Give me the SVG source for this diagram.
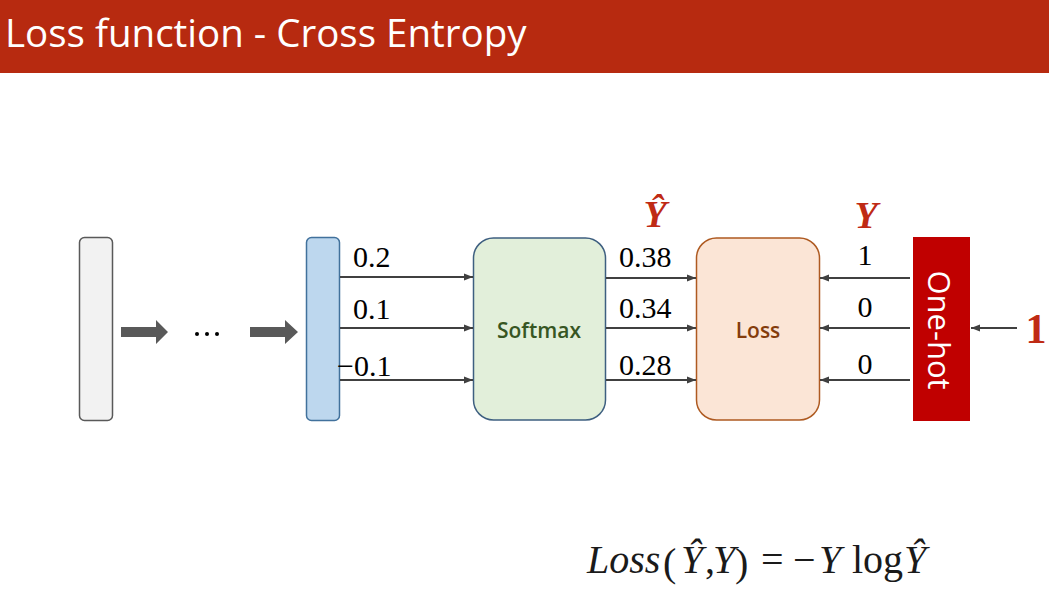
<svg xmlns="http://www.w3.org/2000/svg" width="1049" height="609" viewBox="0 0 1049 609">
<defs>
<style>
.lbl{font-family:"Liberation Serif",serif;font-size:30px;fill:#000}
.box{font-family:"Open Sans","Liberation Sans",sans-serif;font-size:21px;font-weight:600;text-anchor:middle;dominant-baseline:central}
.conn{stroke:#404040;stroke-width:2;fill:none;marker-end:url(#ah)}
.math{font-family:"Liberation Serif",serif;font-size:40px;fill:#1a1a1a}
.it{font-style:italic}
.red{font-family:"Liberation Serif",serif;font-weight:bold;fill:#BF2A14}
</style>
<marker id="ah" markerUnits="userSpaceOnUse" markerWidth="10" markerHeight="8" refX="9" refY="4" orient="auto">
<path d="M0,0.5 L9,4 L0,7.5 z" fill="#404040"/>
</marker>
</defs>
<rect width="1049" height="609" fill="#fff"/>
<g id="title">
<rect x="0" y="0" width="1049" height="73" fill="#B72A10"/>
<text x="5" y="47" font-family="Open Sans, Liberation Sans, sans-serif" font-size="38.5" fill="#fff">Loss function - Cross Entropy</text>
</g>
<g id="input-layer"><rect x="79.5" y="237.5" width="33" height="183" rx="5" fill="#F2F2F2" stroke="#595959" stroke-width="1.5"/></g>
<g id="big-arrows" fill="#595959">
<path d="M121,327 H156 V320 L168,332 L156,344 V337 H121 Z"/>
<path d="M250,327 H285 V320 L298,332 L285,344 V337 H250 Z"/>
</g>
<g id="dots" fill="#000"><circle cx="197" cy="334" r="2"/><circle cx="207" cy="334" r="2"/><circle cx="217" cy="334" r="2"/></g>
<g id="logits-layer"><rect x="306.5" y="237.5" width="33" height="183" rx="5" fill="#BDD7EE" stroke="#41719C" stroke-width="1.5"/></g>
<g id="softmax"><rect x="473.5" y="238" width="132" height="182" rx="20" fill="#E2EFDA" stroke="#3E5F80" stroke-width="1.5"/><text class="box" x="539" y="330" fill="#375623">Softmax</text></g>
<g id="loss"><rect x="696.5" y="238" width="123" height="182" rx="20" fill="#FBE5D6" stroke="#AE5A21" stroke-width="1.5"/><text class="box" x="758" y="330" fill="#843C0C">Loss</text></g>
<g id="onehot"><rect x="913" y="237" width="57" height="184" fill="#C00000"/><text transform="translate(928,330) rotate(90)" x="0" y="0" text-anchor="middle" font-family="Open Sans, Liberation Sans, sans-serif" font-size="31" fill="#fff">One-hot</text></g>
<g id="connectors">
<line class="conn" x1="340" y1="277" x2="473" y2="277"/>
<line class="conn" x1="340" y1="328" x2="473" y2="328"/>
<line class="conn" x1="340" y1="380" x2="473" y2="380"/>
<line class="conn" x1="606" y1="278" x2="696" y2="278"/>
<line class="conn" x1="606" y1="328" x2="696" y2="328"/>
<line class="conn" x1="606" y1="380" x2="696" y2="380"/>
<line class="conn" x1="910" y1="278" x2="820" y2="278"/>
<line class="conn" x1="910" y1="328" x2="820" y2="328"/>
<line class="conn" x1="910" y1="380" x2="820" y2="380"/>
<line class="conn" x1="1017" y1="328" x2="971" y2="328"/>
</g>
<g id="labels">
<text class="lbl" x="353" y="267">0.2</text>
<text class="lbl" x="353" y="319">0.1</text>
<text class="lbl" x="337" y="376">−0.1</text>
<text class="lbl" x="619" y="267">0.38</text>
<text class="lbl" x="619" y="318">0.34</text>
<text class="lbl" x="619" y="375">0.28</text>
<text class="lbl" x="865" y="265" text-anchor="middle">1</text>
<text class="lbl" x="865" y="317" text-anchor="middle">0</text>
<text class="lbl" x="865" y="374" text-anchor="middle">0</text>
<text class="red" x="655" y="227" font-size="38" font-style="italic" text-anchor="middle">Ŷ</text>
<text class="red" x="866" y="228" font-size="38" font-style="italic" text-anchor="middle">Y</text>
<text class="red" x="1036" y="343" font-size="42" text-anchor="middle">1</text>
</g>
<g id="formula">
<text class="math it" x="587" y="573">Loss</text>
<text class="math" x="663" y="576" font-size="50">(</text>
<text class="math it" x="681" y="573">Ŷ</text>
<text class="math" x="705" y="573">,</text>
<text class="math it" x="713" y="573">Y</text>
<text class="math" x="735" y="576" font-size="50">)</text>
<text class="math" x="761" y="573">=</text>
<text class="math" x="793" y="573">−</text>
<text class="math it" x="819" y="573">Y</text>
<text class="math" x="852" y="573">log</text>
<text class="math it" x="904" y="573">Ŷ</text>
</g>
</svg>
